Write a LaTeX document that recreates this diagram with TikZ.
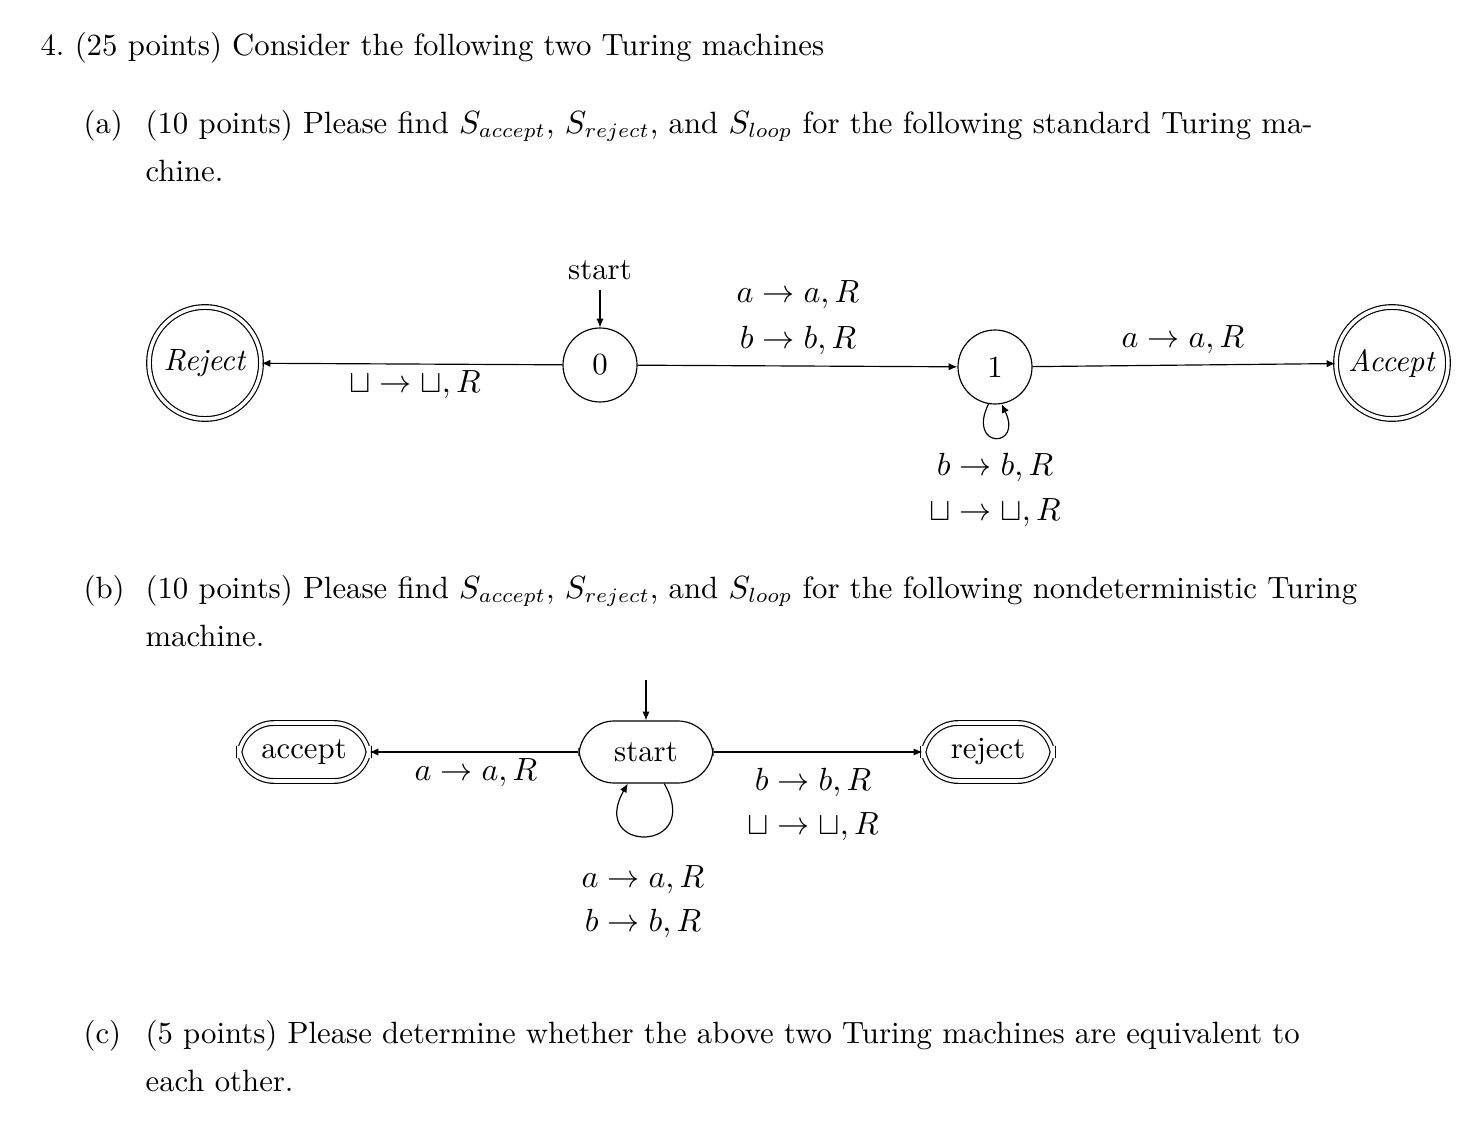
\documentclass[tikz,border=0pt]{standalone}
\usetikzlibrary{arrows.meta}
\begin{document}
\begin{tikzpicture}[x=0.012cm,y=-0.012cm,font=\fontsize{10.5}{12}\selectfont,
  st/.style={circle,draw,minimum size=74*0.012cm,inner sep=0pt},
  fin/.style={circle,draw,double,double distance=1.2pt,minimum size=112*0.012cm,inner sep=0pt},
  rbox/.style={draw,rounded corners=12pt,minimum width=134*0.012cm,minimum height=62*0.012cm},
  rfin/.style={rbox,double,double distance=1.2pt,minimum width=130*0.012cm,minimum height=58*0.012cm},
  arr/.style={-{Latex[length=3pt,width=2.5pt]},thin},
  txt/.style={anchor=west,inner sep=0pt}]
\useasboundingbox (0,0) rectangle (1478,1144);
\node[txt] (t0) at (40,48) {4.\ (25 points) Consider the following two Turing machines};
\node[txt] (ta) at (83,126) {(a)};
\node[txt] (ta1) at (145,126) {(10 points) Please find $S_{accept}$, $S_{reject}$, and $S_{loop}$ for the following standard Turing ma-};
\node[txt] (ta2) at (145,171) {chine.};
\node[fin] (rej) at (205,363) {\textit{Reject}};
\node[st] (q0) at (600,365) {0};
\node[st] (q1) at (995,367) {1};
\node[fin] (acc) at (1392,363) {\textit{Accept}};
\node (s0) at (600,270) {start};
\draw[arr] (s0) -- (q0);
\draw[arr] (q0) -- (rej);
\node (l1) at (415,385) {$\sqcup\to\sqcup,R$};
\draw[arr] (q0) -- (q1);
\node (l2) at (798,295) {$a\to a,R$};
\node (l3) at (798,340) {$b\to b,R$};
\draw[arr] (q1) -- (acc);
\node (l4) at (1183,340) {$a\to a,R$};
\draw[arr] (q1.-100) .. controls +(-22,45) and +(22,45) .. (q1.-80);
\node (l5) at (995,467) {$b\to b,R$};
\node (l6) at (995,513) {$\sqcup\to\sqcup,R$};
\node[txt] (tb) at (83,591) {(b)};
\node[txt] (tb1) at (145,591) {(10 points) Please find $S_{accept}$, $S_{reject}$, and $S_{loop}$ for the following nondeterministic Turing};
\node[txt] (tb2) at (145,636) {machine.};
\node[rfin] (A) at (304,752) {accept};
\node[rbox] (S) at (646,752) {start};
\node[rfin] (R) at (988,752) {reject};
\coordinate (in) at (646,680);
\draw[arr] (in) -- (S);
\draw[arr] (S) -- (A);
\node (m1) at (476,773) {$a\to a,R$};
\draw[arr] (S) -- (R);
\node (m2) at (813,782) {$b\to b,R$};
\node (m3) at (813,827) {$\sqcup\to\sqcup,R$};
\draw[arr] (S.-60) .. controls +(40,70) and +(-40,70) .. (S.-120);
\node (m4) at (643,880) {$a\to a,R$};
\node (m5) at (643,923) {$b\to b,R$};
\node[txt] (tc) at (83,1036) {(c)};
\node[txt] (tc1) at (145,1036) {(5 points) Please determine whether the above two Turing machines are equivalent to};
\node[txt] (tc2) at (145,1081) {each other.};
\end{tikzpicture}
\end{document}
